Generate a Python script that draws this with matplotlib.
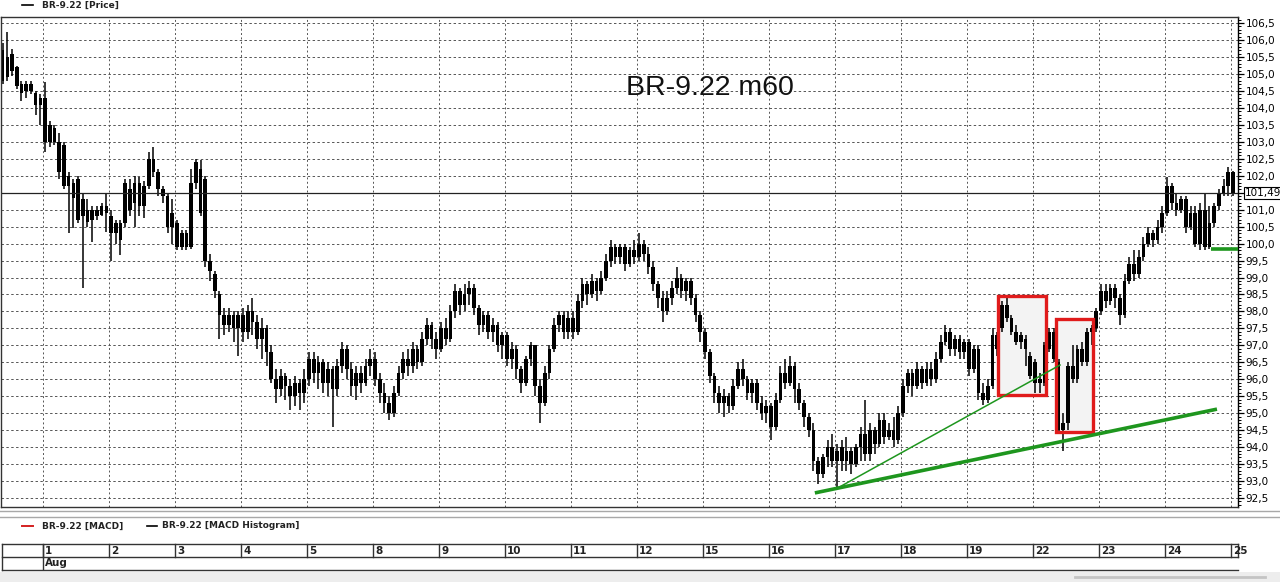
import matplotlib
matplotlib.use("Agg")
import matplotlib.pyplot as plt
from matplotlib.patches import Rectangle
from matplotlib.lines import Line2D
from matplotlib.ticker import MultipleLocator, FuncFormatter
import matplotlib.transforms as mtransforms

W, H, DPI = 1280, 582, 100

# ---------------- data (hourly candles, BR-9.22) ----------------
opens = [
    104.8, 104.9, 105.6, 105.2, 104.7, 104.5, 104.7, 104.45, 104.1,
    104.3, 103.0, 103.4, 103.0, 102.9, 101.7, 101.8, 101.9, 100.8, 101.0, 100.7, 101.0, 100.85, 101.1,
    100.8, 100.3, 100.6, 100.6, 101.6, 101.2, 101.8, 101.1, 101.7, 102.5, 102.1, 101.6, 101.4, 100.5,
    100.6, 99.9, 100.3, 99.9, 101.8, 102.2, 101.9, 99.5, 99.1, 98.5, 97.9, 97.6, 97.9, 97.5,
    97.9, 97.4, 98.0, 97.7, 97.2, 97.5, 96.8, 96.0, 95.7, 96.1, 95.8, 95.5, 95.9, 95.6,
    96.0, 96.6, 96.2, 96.5, 95.9, 96.3, 95.7, 96.4, 96.9, 96.3, 95.8, 96.2, 95.9, 96.4,
    96.6, 96.0, 95.6, 95.3, 95.0, 95.6, 96.2, 96.6, 96.4, 96.9, 96.5, 97.2, 97.6, 97.2,
    96.9, 97.5, 97.2, 98.0, 98.6, 98.2, 98.5, 98.7, 98.1, 97.6, 97.9, 97.4, 97.6, 97.0,
    97.3, 96.6, 96.9, 96.3, 95.9, 96.6, 97.0, 95.8, 95.3, 96.2, 96.9, 97.6, 97.9, 97.4,
    97.8, 97.4, 98.3, 98.8, 98.5, 98.9, 98.6, 99.0, 99.5, 99.9, 99.6, 99.9, 99.4, 99.8,
    99.6, 100.0, 99.7, 99.3, 98.8, 98.4, 98.0, 98.4, 98.7, 99.0, 98.6, 98.9, 98.4, 97.9,
    97.4, 96.8, 96.1, 95.6, 95.3, 95.5, 95.2, 95.8, 96.3, 96.0, 95.6, 95.9, 95.3, 95.0,
    95.2, 94.6, 95.4, 96.2, 95.9, 96.4, 95.7, 95.3, 94.9, 94.5, 93.6, 93.2, 93.7, 94.0,
    93.6, 94.0, 93.6, 93.9, 93.5, 94.0, 94.4, 93.8, 94.5, 94.1, 94.8, 94.3, 94.5, 94.2,
    95.0, 95.8, 96.2, 95.8, 96.3, 95.9, 96.3, 96.0, 96.6, 97.1, 97.4, 96.9, 97.2, 96.8,
    97.1, 96.3, 96.9, 95.6, 95.4, 95.8, 97.3, 97.5, 98.2, 97.8, 97.4, 97.1, 97.2, 96.7,
    96.5, 95.9, 95.9, 96.9, 97.4, 96.5, 94.5, 94.7, 96.4, 96.0, 96.9, 96.5, 97.4, 97.5,
    98.0, 98.6, 98.3, 98.7, 98.4, 97.9, 98.9, 99.4, 99.1, 99.6, 100.0, 100.3, 100.1, 100.5,
    100.9, 101.7, 101.2, 101.0, 101.3, 100.5, 100.9, 100.0, 101.0, 99.9, 100.6, 101.1, 101.5, 101.7,
    102.1,
]
highs = [
    105.9, 106.25, 105.75, 105.25, 104.8, 104.8, 104.8, 104.5, 104.4,
    104.75, 103.6, 103.5, 103.25, 103.0, 102.1, 101.9, 102.0, 101.5, 101.3, 101.1, 101.1, 101.2, 101.45,
    101.0, 100.7, 100.7, 101.9, 101.9, 102.0, 101.95, 101.85, 102.7, 102.85, 102.2, 101.7, 101.5, 101.3,
    100.7, 100.4, 100.4, 102.2, 102.5, 102.45, 102.0, 99.7, 99.2, 98.6, 98.1, 98.1, 98.0, 98.0,
    98.1, 98.2, 98.4, 97.9, 97.8, 97.6, 97.0, 96.3, 96.3, 96.2, 96.0, 96.1, 96.0, 96.3,
    96.8, 96.8, 96.7, 96.6, 96.5, 96.4, 96.6, 97.1, 97.0, 96.5, 96.4, 96.4, 96.6, 96.9,
    96.8, 96.2, 95.9, 95.5, 95.8, 96.4, 96.8, 96.9, 97.1, 97.0, 97.4, 97.8, 97.7, 97.4,
    97.7, 97.8, 98.2, 98.8, 98.7, 98.8, 98.9, 98.8, 98.2, 98.0, 98.0, 97.8, 97.7, 97.4,
    97.4, 97.1, 97.0, 96.4, 96.7, 97.1, 97.0, 96.0, 96.4, 97.0, 97.8, 98.0, 98.0, 98.0,
    98.0, 98.5, 99.0, 98.9, 99.1, 99.0, 99.2, 99.7, 100.1, 100.0, 100.0, 100.0, 99.9, 100.1,
    100.3, 100.1, 99.9, 99.5, 98.9, 98.6, 98.6, 98.9, 99.3, 99.1, 99.0, 99.0, 98.5, 98.0,
    97.5, 96.9, 96.2, 95.8, 95.7, 95.6, 96.0, 96.5, 96.6, 96.1, 96.0, 96.0, 95.5, 95.4,
    95.3, 95.6, 96.4, 96.6, 96.7, 96.5, 95.9, 95.4, 95.0, 94.7, 93.7, 93.8, 94.2, 94.4,
    94.1, 94.2, 94.3, 94.0, 94.1, 94.6, 95.4, 94.7, 94.6, 95.0, 95.0, 94.7, 94.9, 95.2,
    96.0, 96.3, 96.3, 96.5, 96.4, 96.5, 96.5, 96.8, 97.3, 97.6, 97.5, 97.3, 97.3, 97.2,
    97.2, 97.0, 97.0, 95.9, 96.0, 97.5, 97.4, 98.3, 98.4, 97.9, 97.6, 97.4, 97.3, 96.8,
    96.6, 96.2, 97.1, 97.5, 97.5, 96.6, 95.0, 96.5, 97.0, 97.0, 97.1, 97.5, 97.6, 98.1,
    98.8, 98.8, 98.8, 98.8, 98.5, 99.1, 99.6, 99.8, 99.8, 100.2, 100.5, 100.4, 100.7, 101.1,
    101.95, 101.8, 101.5, 101.4, 101.4, 101.1, 101.1, 101.2, 101.5, 101.1, 101.2, 101.6, 101.9, 102.25,
    102.15,
]
lows = [
    104.7, 104.8, 104.95, 104.55, 104.2, 104.3, 104.4, 103.8, 103.5,
    102.7, 102.85, 102.9, 101.9, 101.6, 100.3, 100.45, 100.6, 98.7, 100.5, 100.05, 100.7, 100.8, 100.35,
    99.5, 100.0, 99.65, 100.5, 100.8, 100.5, 100.8, 100.75, 101.6, 101.95, 101.4, 101.2, 100.3, 100.0,
    99.8, 99.8, 99.8, 99.85, 101.6, 100.8, 99.3, 98.9, 98.4, 97.2, 97.3, 97.4, 97.1, 96.7,
    97.1, 97.2, 97.3, 96.9, 96.6, 96.4, 95.9, 95.3, 95.5, 95.4, 95.1, 95.2, 95.1, 95.3,
    95.8, 95.9, 95.7, 95.6, 95.5, 94.6, 95.5, 96.2, 96.0, 95.5, 95.4, 95.6, 95.8, 96.1,
    95.8, 95.3, 95.0, 94.8, 94.9, 95.5, 96.0, 96.1, 96.2, 96.3, 96.4, 97.0, 96.9, 96.6,
    96.8, 97.0, 97.1, 97.8, 97.9, 98.0, 98.2, 97.9, 97.3, 97.4, 97.2, 97.1, 96.8, 96.6,
    96.4, 96.3, 96.0, 95.6, 95.8, 96.4, 95.5, 94.7, 95.2, 96.0, 96.8, 97.4, 97.2, 97.2,
    97.2, 97.3, 98.1, 98.2, 98.4, 98.3, 98.5, 98.9, 99.3, 99.4, 99.4, 99.2, 99.3, 99.4,
    99.5, 99.5, 99.1, 98.6, 98.1, 97.7, 97.9, 98.2, 98.5, 98.4, 98.3, 98.2, 97.7, 97.1,
    96.6, 95.9, 95.3, 95.0, 94.9, 95.0, 95.1, 95.7, 95.8, 95.4, 95.3, 95.1, 94.8, 94.7,
    94.2, 94.5, 95.3, 95.7, 95.8, 95.3, 95.1, 94.6, 94.3, 93.3, 92.9, 93.1, 93.4, 93.4,
    92.75, 93.3, 93.3, 93.2, 93.4, 93.6, 93.6, 93.6, 93.8, 94.0, 94.1, 94.2, 94.0, 94.1,
    94.9, 95.6, 95.5, 95.7, 95.7, 95.8, 95.8, 95.9, 96.5, 97.0, 96.7, 96.7, 96.6, 96.6,
    96.1, 96.2, 95.4, 95.25, 95.3, 95.7, 96.7, 97.4, 97.7, 97.3, 97.0, 96.9, 96.4, 96.0,
    95.6, 95.6, 95.8, 96.8, 96.5, 94.4, 93.9, 94.5, 95.9, 95.9, 96.4, 96.4, 97.0, 97.4,
    97.9, 98.1, 98.2, 98.1, 97.6, 97.8, 98.8, 98.9, 99.0, 99.5, 99.9, 99.9, 100.0, 100.3,
    100.8, 101.0, 100.8, 100.9, 100.3, 100.4, 99.9, 99.8, 99.8, 99.85, 100.5, 101.0, 101.4, 101.4,
    101.4,
]
closes = [
    105.7, 105.5, 105.1, 104.65, 104.45, 104.7, 104.5, 104.1, 104.3,
    103.0, 103.5, 103.0, 102.1, 101.7, 102.0, 101.35, 100.7, 101.3, 100.65, 101.0, 100.8, 101.1, 100.9,
    100.3, 100.6, 100.1, 101.8, 101.0, 101.8, 101.1, 101.7, 102.5, 102.1, 101.6, 101.4, 100.5, 100.9,
    99.9, 100.3, 99.9, 101.8, 102.4, 100.9, 99.5, 99.2, 98.6, 97.9, 97.6, 97.9, 97.5, 97.9,
    97.4, 98.0, 97.7, 97.2, 97.5, 96.8, 96.0, 95.7, 96.1, 95.8, 95.5, 95.9, 95.6, 96.0,
    96.6, 96.2, 96.5, 95.9, 96.3, 95.7, 96.4, 96.9, 96.3, 95.8, 96.2, 95.9, 96.4, 96.6,
    96.0, 95.6, 95.3, 95.0, 95.6, 96.2, 96.6, 96.4, 96.9, 96.5, 97.2, 97.6, 97.2, 96.9,
    97.5, 97.2, 98.0, 98.6, 98.2, 98.5, 98.7, 98.1, 97.6, 97.9, 97.4, 97.6, 97.0, 97.3,
    96.6, 96.9, 96.3, 95.9, 96.6, 97.0, 95.8, 95.3, 96.2, 96.9, 97.6, 97.9, 97.4, 97.8,
    97.4, 98.3, 98.8, 98.5, 98.9, 98.6, 99.0, 99.5, 99.9, 99.6, 99.9, 99.4, 99.8, 99.6,
    100.0, 99.7, 99.3, 98.8, 98.4, 98.0, 98.4, 98.7, 99.0, 98.6, 98.9, 98.4, 97.9, 97.4,
    96.8, 96.1, 95.6, 95.3, 95.5, 95.2, 95.8, 96.3, 96.0, 95.6, 95.9, 95.3, 95.0, 95.2,
    94.6, 95.4, 96.2, 95.9, 96.4, 95.7, 95.3, 94.9, 94.5, 93.6, 93.2, 93.7, 94.0, 93.6,
    93.9, 93.6, 93.9, 93.5, 94.0, 94.4, 93.8, 94.5, 94.1, 94.8, 94.3, 94.5, 94.2, 95.0,
    95.8, 96.2, 95.8, 96.3, 95.9, 96.3, 96.0, 96.6, 97.1, 97.4, 96.9, 97.2, 96.8, 97.1,
    96.3, 96.9, 95.6, 95.4, 95.8, 97.3, 96.9, 98.2, 97.8, 97.4, 97.1, 97.3, 96.9, 96.1,
    95.9, 96.0, 97.0, 97.4, 96.6, 94.5, 94.7, 96.4, 96.0, 96.9, 96.5, 97.4, 97.5, 98.0,
    98.6, 98.3, 98.7, 98.4, 97.9, 98.9, 99.4, 99.1, 99.6, 100.0, 100.3, 100.1, 100.5, 100.9,
    101.7, 101.2, 101.0, 101.3, 100.5, 100.9, 100.0, 101.0, 99.9, 100.6, 101.1, 101.5, 101.7, 102.1,
    101.49,
]
day_labels = ["1", "2", "3", "4", "5", "8", "9", "10", "11", "12",
              "15", "16", "17", "18", "19", "22", "23", "24", "25"]
month_label = "Aug"
bars_per_day = 14
first_day_bar = 9            # index of the first candle of Aug 1
last_price = 101.49
title_text = "BR-9.22 m60"
price_legend = "BR-9.22 [Price]"
macd_legend = "BR-9.22 [MACD]"
hist_legend = "BR-9.22 [MACD Histogram]"

# annotation shapes (candle index, price)
box1 = (211.2, 95.54, 221.3, 98.45)
box2 = (223.45, 94.45, 231.3, 97.78)
trend_thick = ((172.3, 92.65), (257.6, 95.12))
trend_thin = ((177.2, 92.80), (224.3, 96.42))
support = ((256.3, 99.84), (262.1, 99.84))

# ---------------- figure ----------------
plt.rcParams["font.family"] = ["DejaVu Sans"]
fig = plt.figure(figsize=(W / DPI, H / DPI), dpi=DPI)
fig.patch.set_facecolor("white")


def fx(x):
    return x / W


def fy(y):
    return 1 - y / H


n = len(closes)
xs = list(range(n))
XMIN, XMAX = -0.346, 262.06
YMIN, YMAX = 92.235, 106.68

ax = fig.add_axes([fx(1), fy(507), fx(1238) - fx(1), fy(17) - fy(507)])
ax.set_xlim(XMIN, XMAX)
ax.set_ylim(YMIN, YMAX)
ax.set_facecolor("white")

# day boundaries
boundaries = [first_day_bar - 0.5 + bars_per_day * j for j in range(len(day_labels))]

# grid
for b in boundaries:
    ax.axvline(b, color="#555555", lw=0.7, ls=(0, (2, 2.5)), zorder=0.5)
for yv in [92.5 + 0.5 * i for i in range(29)]:
    ax.axhline(yv, color="#555555", lw=0.7, ls=(0, (2.5, 2.5)), zorder=0.5)

# red boxes fill
for (x0, y0, x1, y1) in (box1, box2):
    ax.add_patch(Rectangle((x0, y0), x1 - x0, y1 - y0, facecolor="#f3f3f3",
                           edgecolor="none", zorder=1))

# candles
body_bottom = [min(o, c) for o, c in zip(opens, closes)]
body_height = [max(abs(c - o), 0.05) for o, c in zip(opens, closes)]
ax.vlines(xs, lows, highs, color="black", lw=1.1, zorder=2)
ax.bar(xs, body_height, bottom=body_bottom, width=0.78, color="black",
       linewidth=0, zorder=2.1)

# last price line
ax.axhline(last_price, color="#222222", lw=0.9, zorder=2.5)

# red box edges
for (x0, y0, x1, y1) in (box1, box2):
    ax.add_patch(Rectangle((x0, y0), x1 - x0, y1 - y0, facecolor="none",
                           edgecolor="#e01b1b", lw=2.4, zorder=3))

# green lines
(a, b_) = trend_thick
ax.plot([a[0], b_[0]], [a[1], b_[1]], color="#1e961e", lw=2.6,
        solid_capstyle="butt", zorder=3.2)
(a, b_) = trend_thin
ax.plot([a[0], b_[0]], [a[1], b_[1]], color="#1e961e", lw=1.1, zorder=3.2)
(a, b_) = support
ax.plot([a[0], b_[0]], [a[1], b_[1]], color="#1e961e", lw=2.6,
        solid_capstyle="butt", zorder=3.2, clip_on=True)

# title
ax.text((710 - 1) / 1237, (507 - 88) / 490, title_text, transform=ax.transAxes,
        ha="center", va="center", fontsize=20.5, family="Liberation Sans",
        color="#111111", zorder=4)

# axes styling
for side in ("top", "left", "bottom"):
    ax.spines[side].set_color("#333333")
    ax.spines[side].set_linewidth(1.0)
ax.spines["right"].set_color("black")
ax.spines["right"].set_linewidth(1.0)
ax.set_xticks([])
ax.yaxis.tick_right()
ax.yaxis.set_major_locator(MultipleLocator(0.5))
ax.yaxis.set_minor_locator(MultipleLocator(0.1))


def price_fmt(v, pos):
    # the label nearest to the last-price tag is covered by it
    if abs(v - last_price) < 0.25:
        return ""
    return f"{v:.1f}".replace(".", ",")


ax.yaxis.set_major_formatter(FuncFormatter(price_fmt))
ax.tick_params(axis="y", which="major", length=4, width=0.9, pad=1.5,
               labelsize=7.5, colors="black", direction="out")
ax.tick_params(axis="y", which="minor", length=2, width=0.7, direction="out")

# last price tag
trans = mtransforms.blended_transform_factory(ax.transAxes, ax.transData)
ax.annotate(f"{last_price:.2f}".replace(".", ","), xy=(1, last_price), xycoords=trans,
            xytext=(5, 0), textcoords="offset points", ha="left", va="center",
            fontsize=7.5, color="black", annotation_clip=False,
            bbox=dict(boxstyle="square,pad=0.12", fc="white", ec="black", lw=0.8),
            zorder=5)

# ---------------- header legend ----------------
fig.add_artist(Line2D([fx(22), fx(33)], [fy(5), fy(5)], color="black", lw=1.2))
fig.text(fx(42), fy(5), price_legend, fontsize=6.5, fontweight="bold",
         va="center", ha="left", color="#222222")

# ---------------- lower panel ----------------
for yy in (511, 517):
    fig.add_artist(Line2D([0, 1], [fy(yy), fy(yy)], color="#a8a8a8", lw=1.0))
fig.add_artist(Line2D([fx(22), fx(33)], [fy(526), fy(526)], color="#d42020", lw=1.4))
fig.text(fx(42), fy(526), macd_legend, fontsize=6.5, fontweight="bold",
         va="center", ha="left", color="#222222")
fig.add_artist(Line2D([fx(147), fx(157)], [fy(526), fy(526)], color="black", lw=1.2))
fig.text(fx(162), fy(526), hist_legend, fontsize=6.5, fontweight="bold",
         va="center", ha="left", color="#222222")

# date table
tab = fig.add_axes([fx(1), fy(570), fx(1238) - fx(1), fy(544) - fy(570)])
tab.set_xlim(XMIN, XMAX)
tab.set_ylim(0, 2)
tab.axis("off")
lc = "#333333"
tab.plot([XMIN + 0.2, XMAX], [2, 2], color=lc, lw=1.0, clip_on=False)
tab.plot([XMIN + 0.2, XMAX], [1, 1], color=lc, lw=1.0, clip_on=False)
tab.plot([XMIN + 0.2, XMAX], [0, 0], color=lc, lw=1.0, clip_on=False)
tab.plot([XMIN + 0.2, XMIN + 0.2], [0, 2], color=lc, lw=1.0, clip_on=False)
tab.plot([XMAX, XMAX], [1, 2], color=lc, lw=1.0, clip_on=False)
tab.plot([boundaries[0], boundaries[0]], [0, 2], color=lc, lw=1.0)
for b, lab in zip(boundaries, day_labels):
    tab.plot([b, b], [1, 2], color=lc, lw=1.0, clip_on=False)
    tab.text(b + 0.55, 1.5, lab, fontsize=7.5, fontweight="bold", ha="left",
             va="center", color="#222222", clip_on=False)
tab.text(boundaries[0] + 0.55, 0.5, month_label, fontsize=7.5, fontweight="bold",
         ha="left", va="center", color="#222222")

# bottom status strip
fig.add_artist(Rectangle((0, 0), 1, fy(572), transform=fig.transFigure,
                         facecolor="#ededed", edgecolor="none"))
fig.add_artist(Line2D([fx(1075), fx(1265)], [fy(577), fy(577)], color="#c4c4c4", lw=2))

fig.savefig("out.png", dpi=DPI)
